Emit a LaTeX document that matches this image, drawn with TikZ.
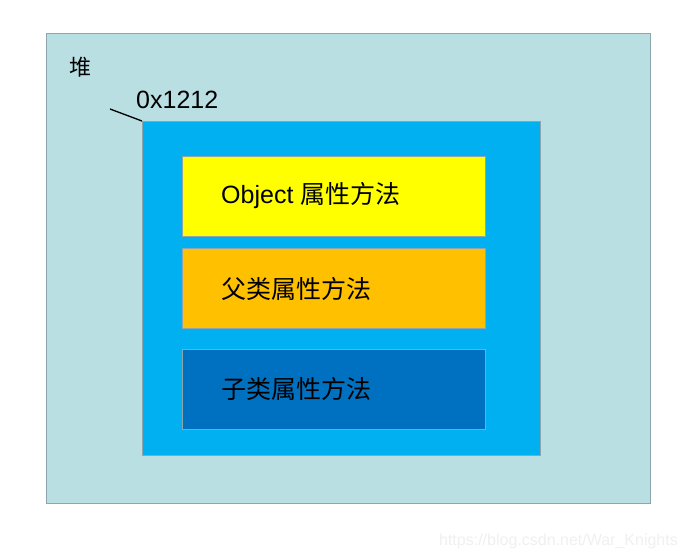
\documentclass[tikz,border=0pt]{standalone}
\usepackage{fontspec}
\setmainfont{Liberation Sans}
\newfontfamily\cjk{Noto Sans CJK SC}
\definecolor{heapfill}{HTML}{B9DFE3}
\definecolor{boxline}{HTML}{8DA5AC}
\definecolor{objfill}{HTML}{00B0F0}
\definecolor{yel}{HTML}{FFFF00}
\definecolor{org}{HTML}{FFC000}
\definecolor{dblue}{HTML}{0070C0}
\definecolor{wm}{HTML}{F0F0F0}
\begin{document}
\begin{tikzpicture}[x=1pt,y=-1pt,
  region/.style={draw=boxline,line width=0.8pt},
  lbl/.style={anchor=west,inner sep=0pt,font=\fontsize{25}{27}\selectfont},
  cjklbl/.style={anchor=west,inner sep=0pt,font=\fontsize{25}{27}\selectfont\cjk}]
\useasboundingbox (0,0) rectangle (689,559);
\fill[white] (0,0) rectangle (689,559);
\node[region,fill=heapfill,minimum width=604pt,minimum height=470pt,inner sep=0pt,anchor=north west] (heap) at (46,33) {};
\node[region,fill=objfill,minimum width=398pt,minimum height=334pt,inner sep=0pt,anchor=north west] (obj) at (142,121) {};
\node[region,fill=yel,minimum width=303pt,minimum height=80pt,inner sep=0pt,anchor=north west] (objpart) at (182,156) {};
\node[region,fill=org,minimum width=303pt,minimum height=80pt,inner sep=0pt,anchor=north west] (parpart) at (182,248) {};
\node[region,fill=dblue,minimum width=303pt,minimum height=80pt,inner sep=0pt,anchor=north west] (subpart) at (182,349) {};
\node[cjklbl,font=\fontsize{22}{24}\selectfont\cjk] (heaplbl) at (69,67) {堆};
\node[lbl] (addr) at (136,100) {0x1212};
\coordinate (tick) at (110,109);
\draw[line width=1.3pt] (tick) -- (obj.north west);
\node[lbl] (t1) at (221,196) {Object {\cjk 属性方法}};
\node[cjklbl] (t2) at (221,289) {父类属性方法};
\node[cjklbl] (t3) at (221,389) {子类属性方法};
\node[anchor=east,inner sep=0pt,text=wm,font=\fontsize{16}{18}\selectfont] (wmark) at (678,541) {https://blog.csdn.net/War\_Knights};
\end{tikzpicture}
\end{document}
